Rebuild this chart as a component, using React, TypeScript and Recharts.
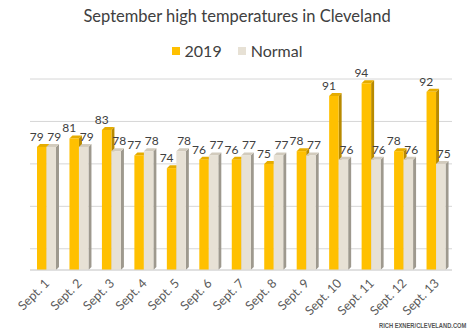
import { Bar, BarChart, CartesianGrid, LabelList, XAxis, YAxis } from "recharts";

const days = [
  "Sept. 1", "Sept. 2", "Sept. 3", "Sept. 4", "Sept. 5", "Sept. 6", "Sept. 7",
  "Sept. 8", "Sept. 9", "Sept. 10", "Sept. 11", "Sept. 12", "Sept. 13",
];
const highs2019 = [79, 81, 83, 77, 74, 76, 76, 75, 78, 91, 94, 78, 92];
const normals = [79, 79, 78, 78, 78, 77, 77, 77, 77, 76, 76, 76, 75];
const yTicks = [50, 55, 60, 65, 70, 75, 80, 85, 90, 95];

const data = days.map((day, i) => ({ day, y2019: highs2019[i], normal: normals[i] }));

const FONT = "Lato, 'Open Sans', sans-serif";
const D = 3; // fake 3d depth

function make3D(front: string, side: string, top: string) {
  return (props: any) => {
    const { x, y, width, height } = props;
    if (height == null || height <= 0) return <g />;
    return (
      <g>
        <polygon
          points={`${x + width},${y} ${x + width + D},${y - D} ${x + width + D},${y + height - D} ${x + width},${y + height}`}
          fill={side}
        />
        <polygon
          points={`${x},${y} ${x + D},${y - D} ${x + width + D},${y - D} ${x + width},${y}`}
          fill={top}
        />
        <rect x={x} y={y} width={width} height={height} fill={front} />
      </g>
    );
  };
}

const YellowBar = make3D("#FFC000", "#B88A00", "#E5AC00");
const NormalBar = make3D("#E7E1D5", "#9E998E", "#D2CBBD");

function DayTick(props: any) {
  const { x, y, payload } = props;
  return (
    <g transform={`translate(${x + 4},${y + 6})`}>
      <text transform="rotate(-45)" textAnchor="end" fontSize={12.5} fill="#595959" fontFamily={FONT}>
        {payload.value}
      </text>
    </g>
  );
}

function TopLegend() {
  const items = [
    { label: "2019", color: "#FFC000" },
    { label: "Normal", color: "#E7E1D5" },
  ];
  return (
    <div
      style={{
        position: "absolute",
        top: 41,
        width: 474,
        display: "flex",
        justifyContent: "center",
        gap: 16,
        fontFamily: FONT,
        fontSize: 16,
        color: "#404040",
      }}
    >
      {items.map((it) => (
        <div key={it.label} style={{ display: "flex", alignItems: "center" }}>
          <span style={{ width: 8, height: 8, background: it.color, marginRight: 5, display: "inline-block" }} />
          <span>{it.label}</span>
        </div>
      ))}
    </div>
  );
}

export default function App() {
  return (
    <div style={{ position: "absolute", left: 0, top: 0, width: 474, height: 335, background: "#fff" }}>
      <div
        style={{
          position: "absolute",
          top: 6,
          width: 474,
          textAlign: "center",
          fontFamily: FONT,
          fontSize: 16.5,
          color: "#404040",
        }}
      >
        September high temperatures in Cleveland
      </div>
      <TopLegend />
      <BarChart
        width={474}
        height={335}
        data={data}
        margin={{ top: 79, right: 22, left: 30, bottom: 5 }}
        barGap={0}
        barSize={9.5}
      >
        <CartesianGrid vertical={false} stroke="#d6d6d6" />
        <YAxis domain={[50, 95]} ticks={yTicks} hide />
        <XAxis dataKey="day" height={60} interval={0} tickLine={false} axisLine={{ stroke: "#d6d6d6" }} tick={<DayTick />} />
        <Bar dataKey="y2019" name="2019" fill="#FFC000" shape={YellowBar} isAnimationActive={false}>
          <LabelList dataKey="y2019" position="top" offset={6} dx={-5} fontSize={12} fill="#404040" fontFamily={FONT} />
        </Bar>
        <Bar dataKey="normal" name="Normal" fill="#E7E1D5" shape={NormalBar} isAnimationActive={false}>
          <LabelList dataKey="normal" position="top" offset={6} dx={3} fontSize={12} fill="#404040" fontFamily={FONT} />
        </Bar>
      </BarChart>
      <div
        style={{
          position: "absolute",
          left: 379,
          top: 321,
          fontFamily: "'Liberation Sans Narrow', 'Liberation Sans', sans-serif",
          fontWeight: "bold",
          fontSize: 8,
          color: "#555",
          whiteSpace: "nowrap",
          transform: "scaleX(0.72)",
          transformOrigin: "left top",
        }}
      >
        RICH EXNER/CLEVELAND.COM
      </div>
    </div>
  );
}
